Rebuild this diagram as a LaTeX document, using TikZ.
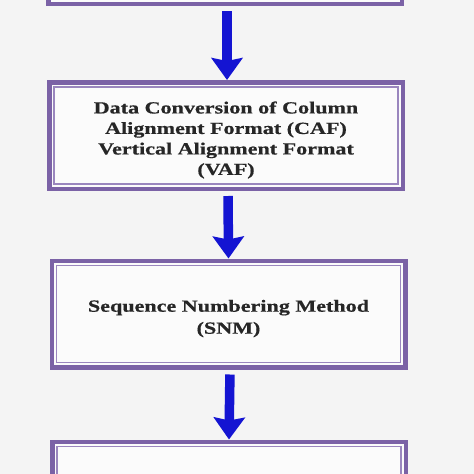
\documentclass[tikz,border=0pt]{standalone}
\usepackage{fontspec}
\usepackage{tikz}
\usetikzlibrary{arrows.meta}
\newfontfamily\stagefont{Liberation Serif}[FakeStretch=1.3,FakeBold=0.6]
\definecolor{boxpurple}{HTML}{7B62A6}
\definecolor{linepurple}{HTML}{9A86BE}
\definecolor{flowblue}{HTML}{1414D2}
\definecolor{pagegray}{HTML}{F4F4F4}
\tikzset{
  stage/.style={draw=boxpurple, line width=4.5pt, fill=white!60!pagegray,
    minimum width=353.5pt, minimum height=106.5pt, align=center,
    font=\stagefont\bfseries\fontsize{17}{20.5}\selectfont, text=black!85},
  innerline/.style={draw=linepurple, line width=1.3pt},
  flow/.style={draw=flowblue, line width=9.5pt,
    -{Stealth[inset=3pt,width=31pt,length=22pt]}, shorten <=5pt}
}
\begin{document}
\begin{tikzpicture}[x=1pt,y=1pt]
\useasboundingbox[fill=pagegray] (0,0) rectangle (474,-474);
\node[stage] (top) at (225,49.5) {};
\node[stage] (caf) at (226,-135.5) {\rule{0pt}{21pt}Data Conversion of Column\\Alignment Format (CAF)\\Vertical Alignment Format\\(VAF)};
\node[stage] (snm) at (228.5,-314) {\rule{0pt}{21pt}Sequence Numbering Method\\[1.5pt](SNM)};
\node[stage] (next) at (229,-495) {};
% inner frame lines
\foreach \n in {top,caf,snm,next}
  \draw[innerline] ([shift={(7pt,-7pt)}]\n.north west) rectangle ([shift={(-7pt,7pt)}]\n.south east);
\draw[flow] ([xshift=2pt]top.south) -- ([xshift=1pt]caf.north);
\draw[flow] ([xshift=2pt]caf.south) -- (snm.north);
\draw[flow] ([xshift=1.5pt]snm.south) -- (next.north);
\end{tikzpicture}
\end{document}
